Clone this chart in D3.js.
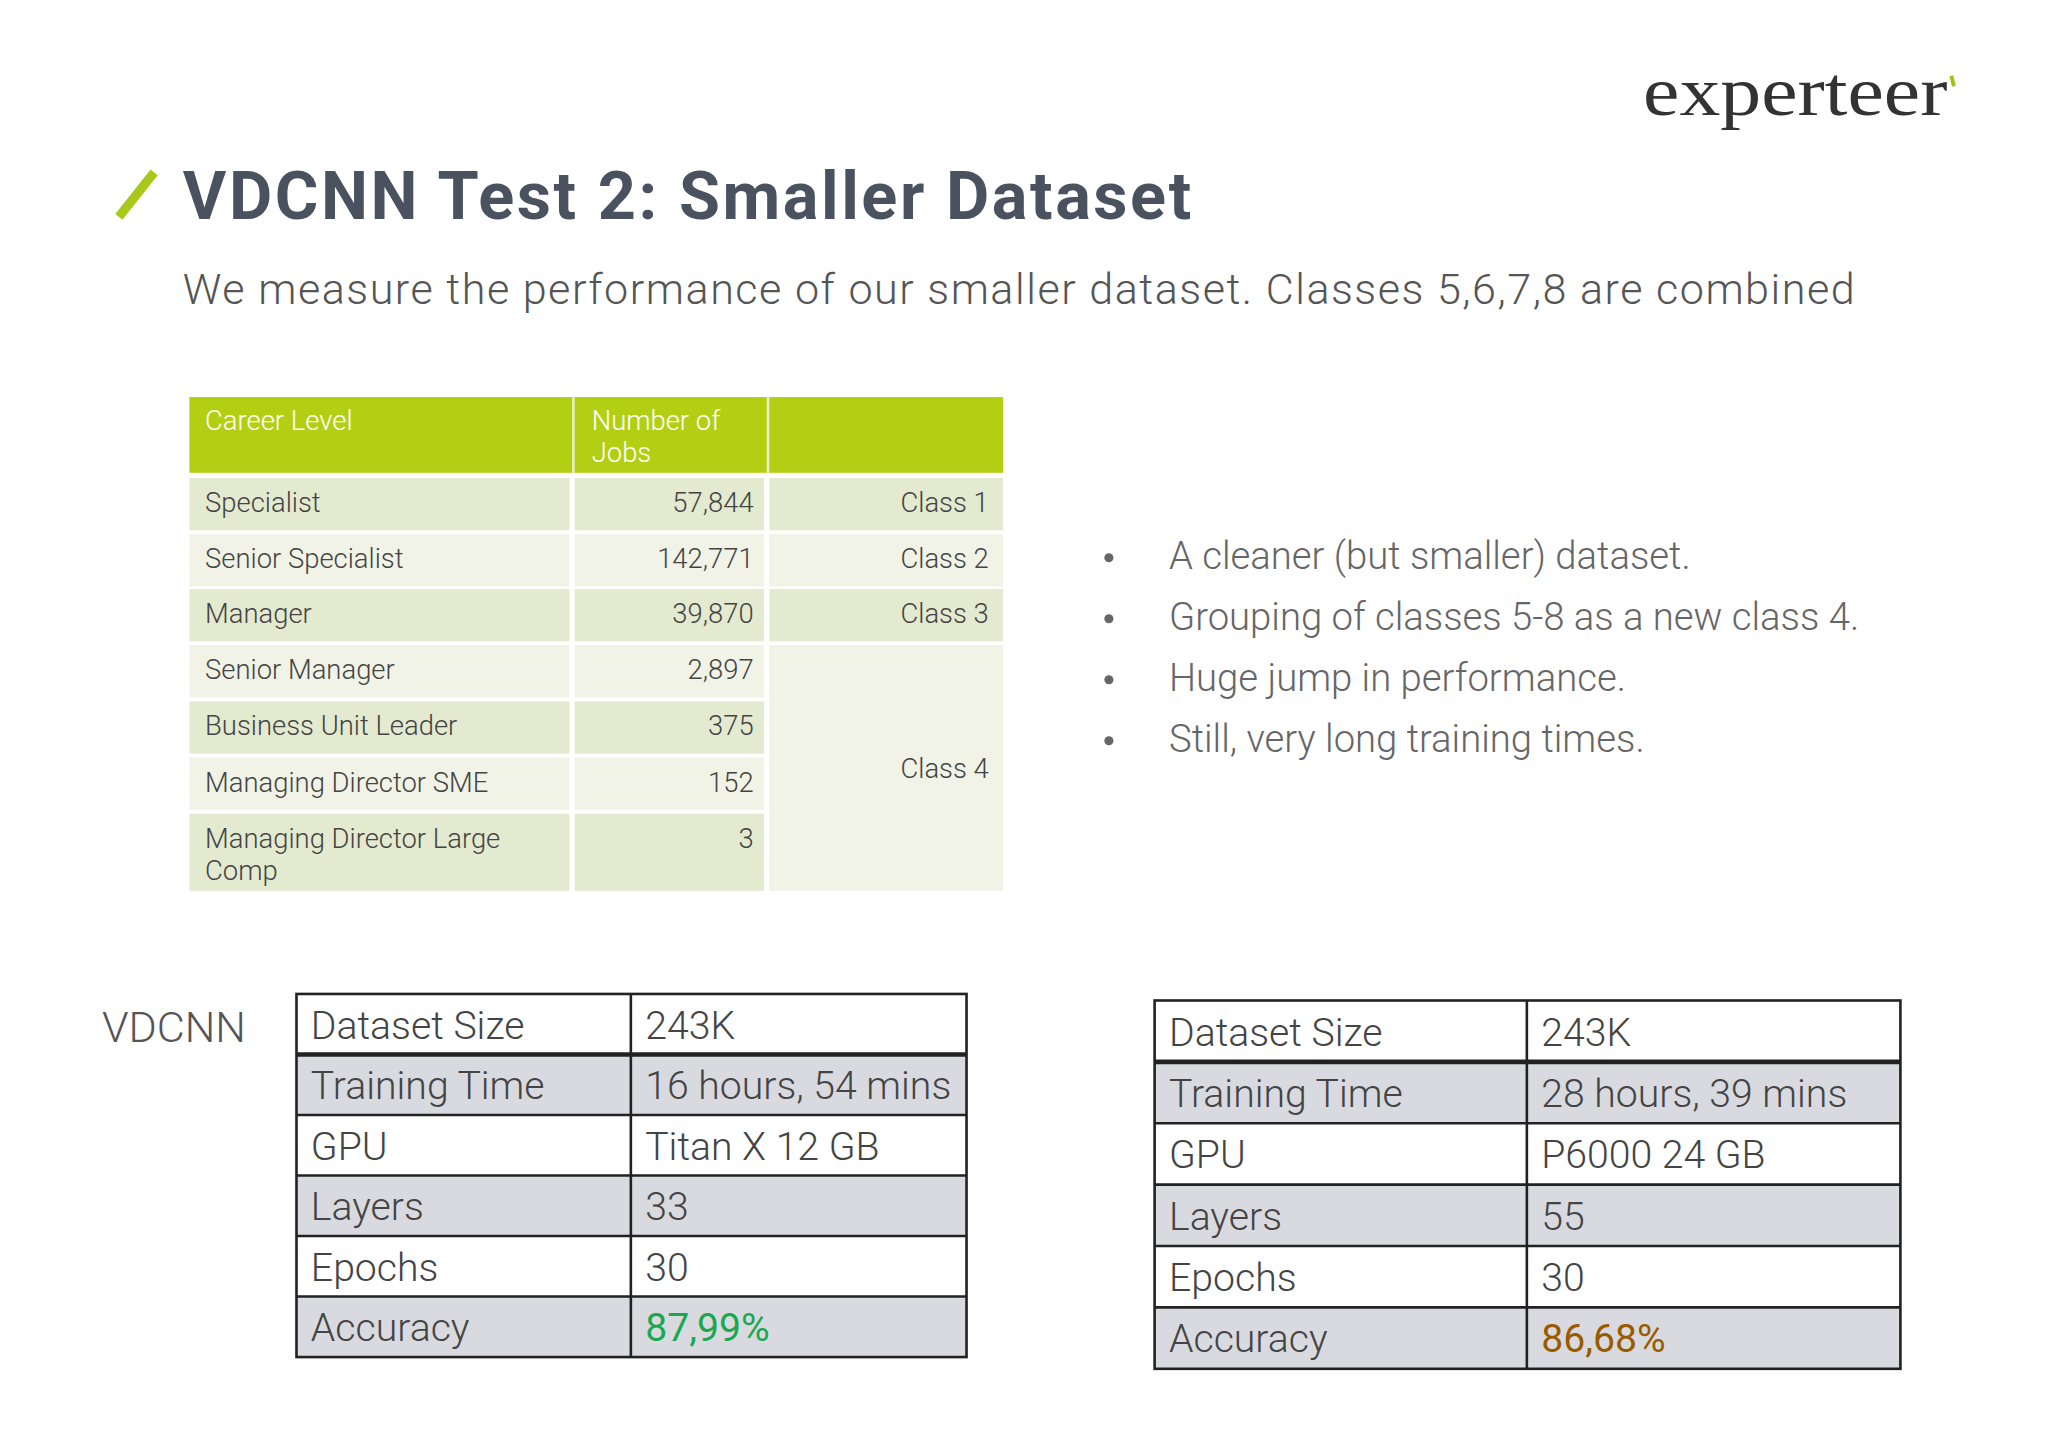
<!DOCTYPE html>
<html><head><meta charset="utf-8">
<script src="https://cdn.jsdelivr.net/npm/d3@7"></script>
<style>body{margin:0;background:#fff}svg{display:block}</style>
</head><body>
<script>
const careerLevels=["Specialist","Senior Specialist","Manager","Senior Manager","Business Unit Leader","Managing Director SME","Managing Director Large Comp"];
const jobCounts=["57,844","142,771","39,870","2,897","375","152","3"];
const classLabels=["Class 1","Class 2","Class 3","Class 4"];
const bullets=["A cleaner (but smaller) dataset.","Grouping of classes 5-8 as a new class 4.","Huge jump in performance.","Still, very long training times."];
const metricNames=["Dataset Size","Training Time","GPU","Layers","Epochs","Accuracy"];
const vdcnn33=["243K","16 hours, 54 mins","Titan X 12 GB","33","30","87,99%"];
const vdcnn55=["243K","28 hours, 39 mins","P6000 24 GB","55","30","86,68%"];

const K=2048/1568;
const svg=d3.select("body").append("svg").attr("width",2048).attr("height",1448);
const g=svg.append("g").attr("transform",`scale(${K})`);
const F="Roboto";

// logo
g.append("text").attr("x",1258).attr("y",88)
 .attr("font-family","Liberation Serif").attr("font-size",54).attr("fill","#333")
 .attr("textLength",233).attr("lengthAdjust","spacingAndGlyphs").text("experteer");
g.append("line").attr("x1",1494).attr("y1",58).attr("x2",1496).attr("y2",66).attr("stroke","#9dc31b").attr("stroke-width",3);

// title
g.append("line").attr("x1",91).attr("y1",166).attr("x2",118).attr("y2",132).attr("stroke","#a8c81a").attr("stroke-width",7);
g.append("text").attr("x",140).attr("y",168).attr("font-family",F).attr("font-weight",700).attr("font-size",51).attr("fill","#4a5260")
 .attr("textLength",772).attr("lengthAdjust","spacing").text("VDCNN Test 2: Smaller Dataset");
g.append("text").attr("x",140).attr("y",233).attr("font-family",F).attr("font-weight",300).attr("font-size",33).attr("fill","#555")
 .attr("textLength",1280).attr("lengthAdjust","spacing").text("We measure the performance of our smaller dataset. Classes 5,6,7,8 are combined");

// career table
const colX=[145,440,589], colW=[293,147,179];
const rowTop=[366,409,451,494,537,580,623], rowH=[40,40,40,40,40,40,59];
const dark="#e3ead0", light="#f0f3e6";
g.append("rect").attr("x",145).attr("y",304).attr("width",623).attr("height",58).attr("fill","#b3cf14");
g.append("line").attr("x1",439).attr("x2",439).attr("y1",304).attr("y2",362).attr("stroke","#e8efc8").attr("stroke-width",2);
g.append("line").attr("x1",588).attr("x2",588).attr("y1",304).attr("y2",362).attr("stroke","#e8efc8").attr("stroke-width",2);
const hdr=(x,y,t)=>g.append("text").attr("x",x).attr("y",y).attr("font-family",F).attr("font-weight",300).attr("font-size",21).attr("fill","#fff").text(t);
hdr(157,329,"Career Level");hdr(453,329,"Number of");hdr(453,354,"Jobs");
careerLevels.forEach((c,i)=>{
  const fill=i%2===0?dark:light;
  for(let j=0;j<2;j++) g.append("rect").attr("x",colX[j]).attr("y",rowTop[i]).attr("width",colW[j]-2).attr("height",rowH[i]).attr("fill",fill);
  if(i<3) g.append("rect").attr("x",colX[2]).attr("y",rowTop[i]).attr("width",colW[2]).attr("height",rowH[i]).attr("fill",fill);
  const y=rowTop[i]+26;
  const words=c==="Managing Director Large Comp"?["Managing Director Large","Comp"]:[c];
  words.forEach((w,k)=>g.append("text").attr("x",157).attr("y",y+k*25).attr("font-family",F).attr("font-weight",300).attr("font-size",21).attr("fill","#444").text(w));
  g.append("text").attr("x",577).attr("y",y).attr("text-anchor","end").attr("font-family",F).attr("font-weight",300).attr("font-size",21).attr("fill","#444").text(jobCounts[i]);
  if(i<3) g.append("text").attr("x",757).attr("y",y).attr("text-anchor","end").attr("font-family",F).attr("font-weight",300).attr("font-size",21).attr("fill","#444").text(classLabels[i]);
});
g.append("rect").attr("x",589).attr("y",494).attr("width",179).attr("height",188).attr("fill",light);
g.append("text").attr("x",757).attr("y",596).attr("text-anchor","end").attr("font-family",F).attr("font-weight",300).attr("font-size",21).attr("fill","#444").text(classLabels[3]);

// bullets
bullets.forEach((b,i)=>{
  const y=436+i*46.7;
  g.append("circle").attr("cx",849).attr("cy",y-9).attr("r",3.5).attr("fill","#666");
  g.append("text").attr("x",895).attr("y",y).attr("font-family",F).attr("font-weight",300).attr("font-size",29.3).attr("fill","#666").text(b);
});

// VDCNN label
g.append("text").attr("x",78).attr("y",798).attr("font-family",F).attr("font-weight",300).attr("font-size",33).attr("fill","#555").text("VDCNN");

function metricTable(x0,x1,xs,y0,y1,vals,accColor){
  const y=d3.scaleLinear().domain([0,6]).range([y0,y1]);
  metricNames.forEach((m,i)=>{
    g.append("rect").attr("x",x0).attr("y",y(i)).attr("width",x1-x0).attr("height",y(i+1)-y(i)).attr("fill",i%2?"#d9dadf":"#fff");
    const ty=(y(i)+y(i+1))/2+11;
    g.append("text").attr("x",x0+11).attr("y",ty).attr("font-family",F).attr("font-weight",300).attr("font-size",30).attr("fill","#444").text(m);
    g.append("text").attr("x",xs+11).attr("y",ty).attr("font-family",F).attr("font-weight",i===5?400:300).attr("font-size",30).attr("fill",i===5?accColor:"#444").text(vals[i]);
  });
  for(let i=1;i<6;i++) g.append("line").attr("x1",x0).attr("x2",x1).attr("y1",y(i)).attr("y2",y(i)).attr("stroke","#222").attr("stroke-width",i===1?3.5:2);
  g.append("line").attr("x1",xs).attr("x2",xs).attr("y1",y0).attr("y2",y1).attr("stroke","#222").attr("stroke-width",2);
  g.append("rect").attr("x",x0).attr("y",y0).attr("width",x1-x0).attr("height",y1-y0).attr("fill","none").attr("stroke","#222").attr("stroke-width",2);
}
metricTable(227,740,483,761,1039,vdcnn33,"#1aa84f");
metricTable(884,1455,1169,766,1048,vdcnn55,"#9a5a00");
</script>
</body></html>
